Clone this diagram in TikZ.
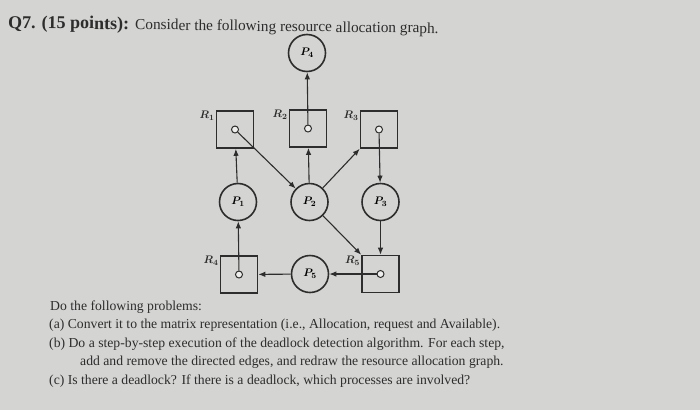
\documentclass[tikz,border=0pt]{standalone}
\usepackage{fontspec}
\setmainfont{Liberation Serif}
\usetikzlibrary{arrows.meta}
\definecolor{paper}{RGB}{212,212,210}
\definecolor{ink}{RGB}{45,45,45}
\tikzset{
	proc/.style={circle,draw=ink,line width=1.6pt,minimum size=37pt,inner sep=0pt,font=\fontsize{11}{13}\selectfont\boldmath},
	res/.style={rectangle,draw=ink,line width=1.6pt,minimum size=37pt,inner sep=0pt},
	inst/.style={circle,draw=ink,line width=1pt,minimum size=7pt,inner sep=0pt,fill=white!60!paper},
	edge/.style={draw=ink,line width=1.1pt,-{Latex[length=7pt,width=5.5pt]}},
	rlabel/.style={label={[anchor=north east,inner sep=1pt,text=ink,font=\fontsize{11}{13}\selectfont\boldmath]north west:#1}},
	txt/.style={anchor=base west,inner sep=0pt,text=ink,font=\fontsize{13.7}{16}\selectfont},
}

\begin{document}
\begin{tikzpicture}[x=1pt,y=-1pt]
				\fill[paper] (0,0) rectangle (700,410);
				\useasboundingbox (0,0) rectangle (700,410);
				
				\node[anchor=base west,inner sep=0pt,text=ink,rotate=-0.7] (title) at (8,28)
				{\fontsize{18}{20}\selectfont\textbf{Q7. (15 points):} \fontsize{15.3}{18}\selectfont Consider the following resource allocation graph.};
				
				\node[proc] (P4) at (307,53) {$P_4$};
				\node[proc] (P1) at (238,202) {$P_1$};
				\node[proc] (P2) at (309.5,202) {$P_2$};
				\node[proc] (P3) at (380.5,202) {$P_3$};
				\node[proc] (P5) at (310,274) {$P_5$};
				
				\node[res,rlabel=$R_1$] (R1) at (235,129.5) {};
				\node[res,rlabel=$R_2$] (R2) at (308,128.5) {};
				\node[res,rlabel=$R_3$] (R3) at (379,129.5) {};
				\node[res,rlabel=$R_4$] (R4) at (239,274.5) {};
				\node[res,rlabel=$R_5$] (R5) at (380.5,274) {};
				
				\foreach \r in {1,...,5}{
					\node[inst] (d\r) at (R\r.center) {};}
				
				\foreach \a/\b in {d1/P2,d2/P4,d3/P3,d4/P1,d5/P5}{
					\draw[edge] (\a) -- (\b);}
				
				\foreach \a/\b in {P1/R1,P2/R2,P3/R5,P5/R4,P2/R3.south west,P2/R5.north west}{
					\draw[edge] (\a) -- (\b);}
				
				\node[txt] (q0) at (50,310) {Do the following problems:};
				\node[txt] (qa) at (49,328.5) {(a) Convert it to the matrix representation (i.e., Allocation, request and Available).};
				\node[txt] (qb) at (49,347) {(b) Do a step-by-step execution of the deadlock detection algorithm. For each step,};
				\node[txt] (qb2) at (80,365.5) {add and remove the directed edges, and redraw the resource allocation graph.};
				\node[txt] (qc) at (49,384) {(c) Is there a deadlock? If there is a deadlock, which processes are involved?};
			\end{tikzpicture}
\end{document}
